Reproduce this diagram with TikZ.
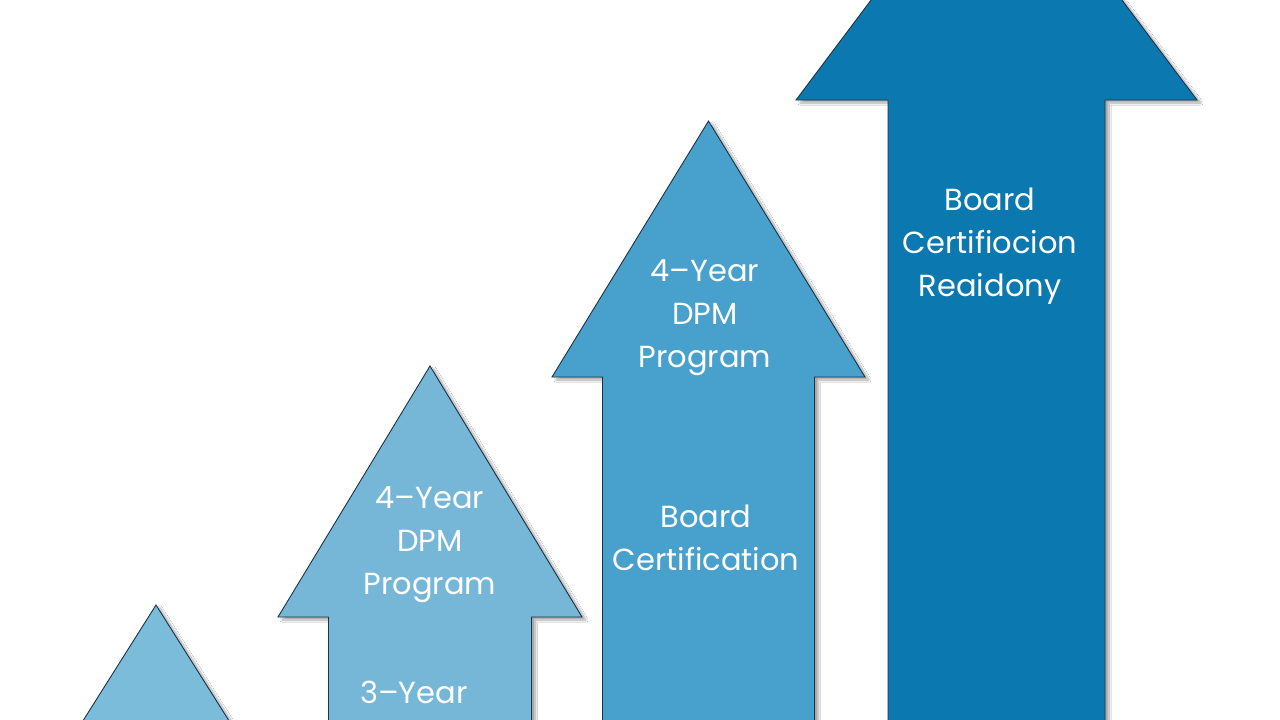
\documentclass[tikz,border=0pt]{standalone}
\usepackage{fontspec}
\setmainfont{Poppins}
\usetikzlibrary{shadows.blur}
\definecolor{cA}{RGB}{124,188,219}
\definecolor{cB}{RGB}{118,183,216}
\definecolor{cC}{RGB}{72,160,204}
\definecolor{cD}{RGB}{11,120,176}
\definecolor{edge}{RGB}{28,52,70}
\tikzset{
  arrowshape/.style={draw=edge, line width=0.9pt, line join=miter,
    blur shadow={shadow xshift=4pt, shadow yshift=-3pt, shadow blur steps=10, shadow opacity=35}},
  lbl/.style={text=white, align=center, inner sep=0pt,
    font=\fontsize{30.5}{43}\selectfont}
}
% #1 center x, #2 tip y, #3 head half width, #4 head height, #5 shaft half width, #6 color
\newcommand{\uparr}[6]{%
  \path[arrowshape, fill=#6]
    (#1,#2) -- (#1+#3,#2+#4) -- (#1+#5,#2+#4) -- (#1+#5,960)
    -- (#1-#5,960) -- (#1-#5,#2+#4) -- (#1-#3,#2+#4) -- cycle;}
\begin{document}
\begin{tikzpicture}[x=1pt,y=-1pt]
\useasboundingbox (0,0) rectangle (1280,720);
\clip (0,0) rectangle (1280,720);
\fill[white] (0,0) rectangle (1280,720);
\uparr{156}{605}{152}{241}{102}{cA}
\uparr{430}{366}{152}{251}{101.5}{cB}
\uparr{708.5}{121}{156.5}{256}{106}{cC}
\uparr{996.5}{-167}{200.5}{267}{108.5}{cD}
\node[lbl] (t2a) at (430,545) {4–Year\\DPM\\Program};
\node[lbl, anchor=base] (t2b) at (414,703) {3–Year};
\node[lbl] (t3a) at (705,318) {4–Year\\DPM\\Program};
\node[lbl] (t3b) at (706,538) {Board\\Certification};
\node[lbl] (t4a) at (990,246) {Board\\Certifiocion\\Reaidony};
\end{tikzpicture}
\end{document}
